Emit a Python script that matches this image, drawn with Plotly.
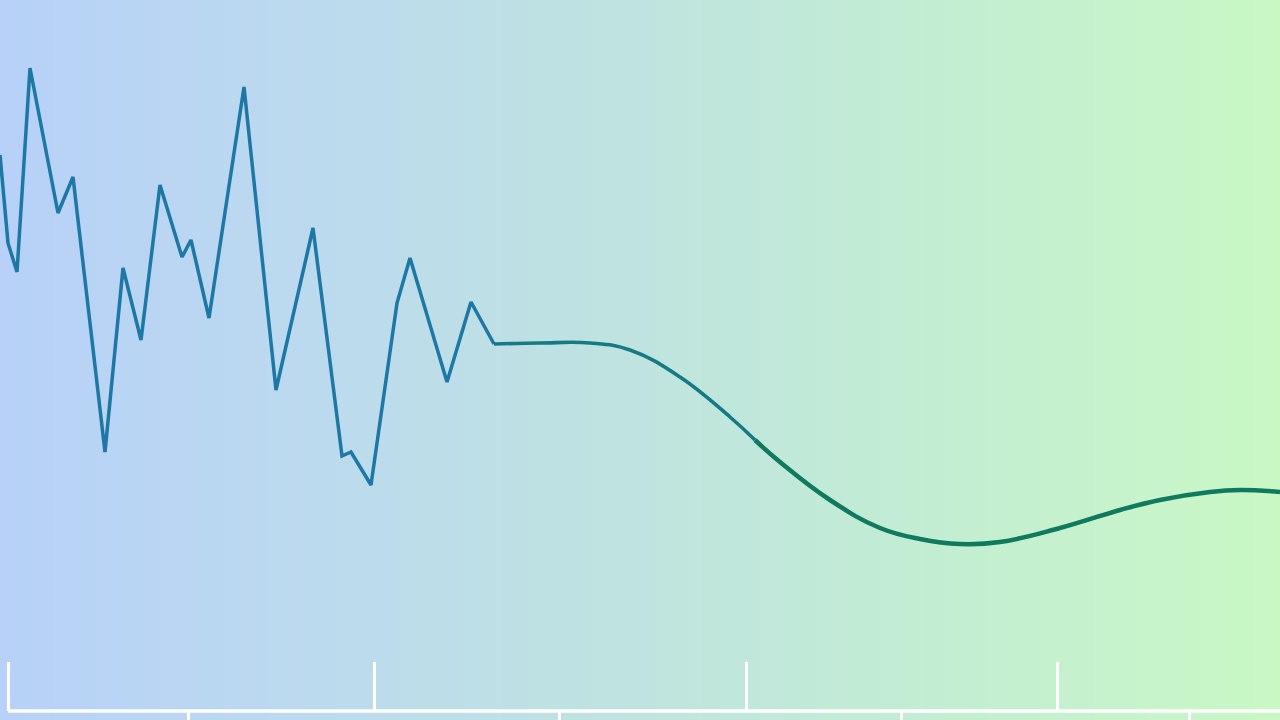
import plotly.graph_objects as go

# ---- data ----
jag_x = [0, 8, 17, 30, 58, 73, 105, 123, 141, 160, 182, 191, 209, 244, 276, 313,
         342, 351, 371, 397, 410, 447, 471, 494]
jag_y = [565, 477, 448, 652, 507, 543, 268, 452, 380, 535, 463, 480, 402, 633, 330, 492,
         264, 268, 235, 417, 462, 338, 418, 376]

smooth_a_x = [494, 540, 590, 630, 680, 730, 755]
smooth_a_y = [376, 377, 377, 370, 343, 303, 280]
smooth_b_x = [755, 780, 830, 880, 920, 960, 1000, 1060, 1120, 1160, 1210, 1240, 1280]
smooth_b_y = [280, 258, 220, 192, 181, 176, 178, 192, 210, 220, 228, 230, 228]

major_ticks = [8, 374, 746, 1057]
minor_ticks = [188, 559, 901, 1189]

bg_x = [0, 320, 640, 960, 1280]
bg_y = [0, 720]

X_MAX = 1280
Y_MAX = 720

fig = go.Figure()

# background gradient
fig.add_trace(go.Heatmap(
    x=bg_x, y=bg_y, z=[bg_x, bg_x],
    colorscale=[[0, '#b7d1f8'], [0.25, '#bcdaee'], [0.5, '#bfe4df'],
                [0.75, '#c3eed2'], [1, '#c9f8c5']],
    zsmooth='best', showscale=False, hoverinfo='skip'))

fig.add_trace(go.Scatter(x=jag_x, y=jag_y, mode='lines',
                         line=dict(color='#1d78a6', width=3.5),
                         hoverinfo='skip', showlegend=False))
fig.add_trace(go.Scatter(x=smooth_a_x, y=smooth_a_y, mode='lines',
                         line=dict(color='#167a86', width=3.6, shape='spline', smoothing=1.2),
                         hoverinfo='skip', showlegend=False))
fig.add_trace(go.Scatter(x=smooth_b_x, y=smooth_b_y, mode='lines',
                         line=dict(color='#0f7a5e', width=4.5, shape='spline', smoothing=1.2),
                         hoverinfo='skip', showlegend=False))

axis_pos = 9 / 720

fig.update_layout(
    width=1280, height=720,
    margin=dict(l=0, r=0, t=0, b=0),
    paper_bgcolor='#c0e4e0', plot_bgcolor='#c0e4e0',
    showlegend=False,
    xaxis=dict(range=[0, X_MAX], showgrid=False, zeroline=False, showline=False,
               showticklabels=False, ticks='inside', ticklen=49, tickwidth=3,
               tickcolor='white', tickmode='array', tickvals=major_ticks,
               anchor='free', position=axis_pos,
               minor=dict(ticks='outside', tickmode='array', tickvals=minor_ticks,
                          ticklen=12, tickwidth=3, tickcolor='white', showgrid=False)),
    yaxis=dict(range=[0, Y_MAX], showgrid=False, zeroline=False, showline=False,
               showticklabels=False, ticks=''),
    shapes=[dict(type='line', xref='x', yref='paper',
                 x0=major_ticks[0], x1=X_MAX, y0=axis_pos, y1=axis_pos,
                 line=dict(color='white', width=3.5), layer='above')],
)

fig.write_html("out.html", config={'displayModeBar': False},
               post_script="document.body.style.margin='0';document.body.style.overflow='hidden';")
